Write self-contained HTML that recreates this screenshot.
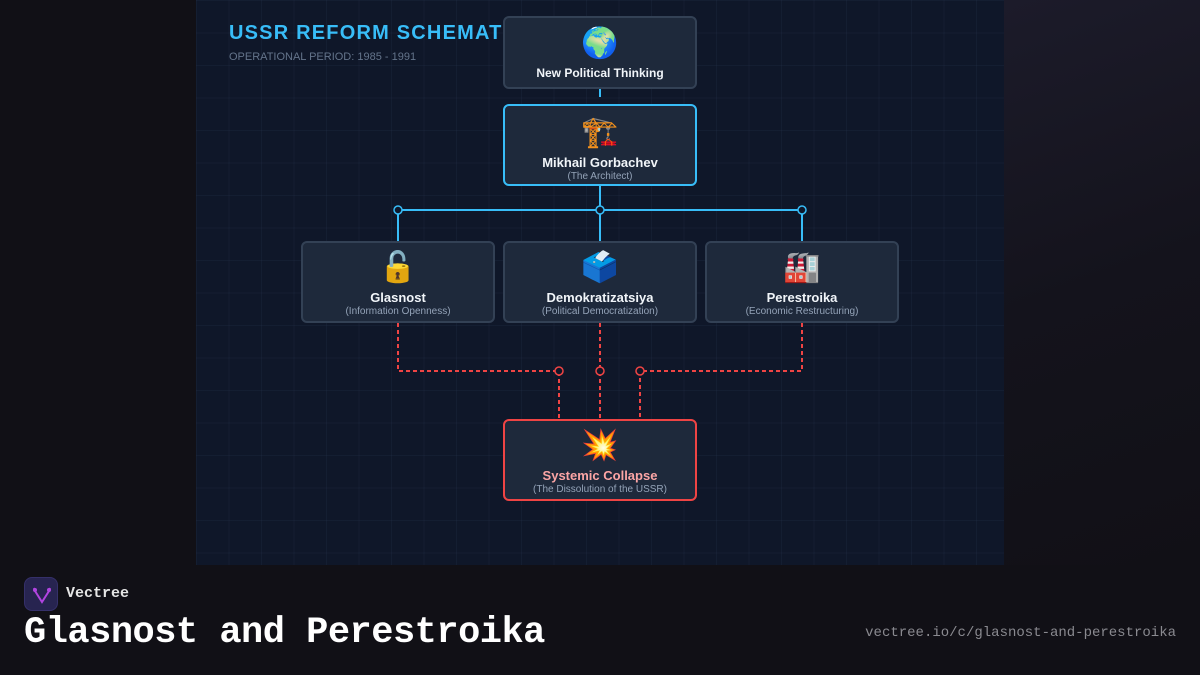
<!DOCTYPE html>
<html><head><meta charset="utf-8"><style>
*{margin:0;padding:0;box-sizing:border-box}
body{width:1200px;height:675px;overflow:hidden;background:#111016;font-family:"Liberation Sans",sans-serif;position:relative}
.right{position:absolute;left:1004px;top:0;width:196px;height:565px;background:linear-gradient(160deg,#1c1b2a 0%,#14131c 50%,#111016 100%)}
.panel{position:absolute;left:196px;top:0;width:808px;height:565px;background-color:#0f1729;
background-image:linear-gradient(rgba(60,80,110,.12) 1px,transparent 1px),linear-gradient(90deg,rgba(60,80,110,.12) 1px,transparent 1px);background-size:32.5px 32.5px}
.node{position:absolute;width:194px;background:#1e293b;border:2px solid #334155;border-radius:6px;text-align:center;color:#f1f5f9}
.ic{font-family:"Noto Color Emoji","DejaVu Sans",sans-serif;font-size:30px;line-height:36px}
.t{font-weight:bold;font-size:13px;margin-top:4px}
.s{font-size:10px;color:#94a3b8;margin-top:1px}
</style></head><body>
<div class="right"></div>
<div class="panel"></div>
<div style="position:absolute;left:229px;top:22px;color:#38bdf8;font-weight:bold;font-size:20px;letter-spacing:1.2px">USSR REFORM SCHEMATIC</div>
<div style="position:absolute;left:229px;top:51px;color:#64748b;font-size:11px">OPERATIONAL PERIOD: 1985 - 1991</div>
<svg style="position:absolute;left:0;top:0" width="1200" height="675">
<g stroke="#38bdf8" stroke-width="2" fill="none">
<line x1="600" y1="89" x2="600" y2="97"/>
<line x1="600" y1="186" x2="600" y2="242"/>
<line x1="398" y1="210" x2="802" y2="210"/>
<line x1="398" y1="210" x2="398" y2="242"/>
<line x1="802" y1="210" x2="802" y2="242"/>
</g>
<g fill="#0f1729" stroke="#38bdf8" stroke-width="1.5">
<circle cx="398" cy="210" r="4"/><circle cx="600" cy="210" r="4"/><circle cx="802" cy="210" r="4"/></g>
<g stroke="#ef4444" stroke-width="2" fill="none" stroke-dasharray="4 3">
<polyline points="398,323 398,371 559,371 559,420"/>
<line x1="600" y1="323" x2="600" y2="420"/>
<polyline points="802,323 802,371 640,371 640,420"/>
</g>
<g fill="#0f1729" stroke="#ef4444" stroke-width="1.5">
<circle cx="559" cy="371" r="4"/><circle cx="600" cy="371" r="4"/><circle cx="640" cy="371" r="4"/></g>
</svg>
<div class="node" style="left:503px;top:16px;height:73px"><div class="ic" style="margin-top:8px">🌍</div><div class="t" style="font-size:12px;margin-top:4px">New Political Thinking</div></div>
<div class="node" style="left:503px;top:104px;height:82px;border-color:#38bdf8"><div class="ic" style="margin-top:9px">🏗️</div><div class="t">Mikhail Gorbachev</div><div class="s">(The Architect)</div></div>
<div class="node" style="left:301px;top:241px;height:82px"><div class="ic" style="margin-top:7px">🔓</div><div class="t">Glasnost</div><div class="s">(Information Openness)</div></div>
<div class="node" style="left:503px;top:241px;height:82px"><div class="ic" style="margin-top:7px">🗳️</div><div class="t">Demokratizatsiya</div><div class="s">(Political Democratization)</div></div>
<div class="node" style="left:705px;top:241px;height:82px"><div class="ic" style="margin-top:7px">🏭</div><div class="t">Perestroika</div><div class="s">(Economic Restructuring)</div></div>
<div class="node" style="left:503px;top:419px;height:82px;border-color:#ef4444"><div class="ic" style="margin-top:7px">💥</div><div class="t" style="color:#fca5a5">Systemic Collapse</div><div class="s">(The Dissolution of the USSR)</div></div>
<div style="position:absolute;left:24px;top:577px;width:34px;height:34px;border-radius:8px;background:#272450;border:1px solid #35306a">
<svg width="34" height="34"><path d="M10 13 L17 24 L24 13 M10 13 l-1 -3 M24 13 l1 -3" stroke="#b144e0" stroke-width="2" fill="none"/><circle cx="10" cy="12" r="2" fill="#b144e0"/><circle cx="24" cy="12" r="2" fill="#b144e0"/></svg></div>
<div style="position:absolute;left:66px;top:585px;color:#e5e5e5;font-family:'Liberation Mono',monospace;font-weight:bold;font-size:15px">Vectree</div>
<div style="position:absolute;left:24px;top:612px;color:#fff;font-family:'Liberation Mono',monospace;font-weight:bold;font-size:37px;letter-spacing:-0.5px">Glasnost and Perestroika</div>
<div style="position:absolute;right:24px;top:625px;color:#8a8a90;font-family:'Liberation Mono',monospace;font-size:14px">vectree.io/c/glasnost-and-perestroika</div>
</body></html>
